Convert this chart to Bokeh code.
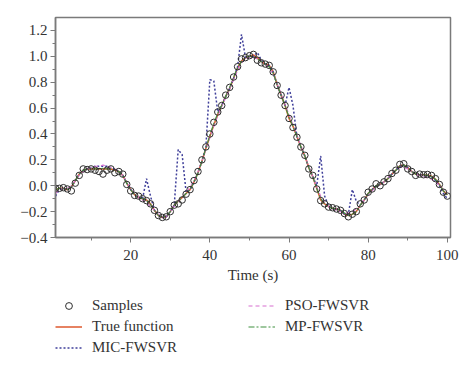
from bokeh.plotting import figure
from bokeh.layouts import column
from bokeh.models import Legend, LegendItem, FixedTicker, Range1d
from bokeh.embed import file_html
from bokeh.resources import INLINE

t = list(range(1, 101))

true_fn = [
    -0.03, -0.02, -0.02, -0.03, -0.01, 0.04, 0.09, 0.12, 0.13, 0.13,
    0.13, 0.13, 0.13, 0.13, 0.13, 0.12, 0.11, 0.08, 0.02, -0.03,
    -0.07, -0.09, -0.10, -0.11, -0.14, -0.19, -0.23, -0.245, -0.24, -0.20,
    -0.15, -0.12, -0.09, -0.06, -0.03, 0.03, 0.10, 0.19, 0.29, 0.38,
    0.47, 0.55, 0.62, 0.69, 0.75, 0.83, 0.91, 0.965, 0.99, 1.00,
    1.01, 0.99, 0.96, 0.94, 0.93, 0.88, 0.78, 0.70, 0.62, 0.52,
    0.46, 0.38, 0.30, 0.23, 0.14, 0.07, -0.02, -0.11, -0.14, -0.16,
    -0.175, -0.18, -0.19, -0.22, -0.23, -0.22, -0.20, -0.15, -0.11, -0.06,
    -0.03, 0.00, 0.01, 0.03, 0.055, 0.09, 0.12, 0.155, 0.16, 0.14,
    0.11, 0.09, 0.085, 0.085, 0.08, 0.075, 0.05, 0.01, -0.04, -0.07]

samples = [
    -0.02, -0.02, -0.015, -0.025, -0.04, 0.02, 0.08, 0.13, 0.125, 0.13,
    0.12, 0.11, 0.09, 0.12, 0.13, 0.10, 0.11, 0.09, 0.01, -0.04,
    -0.075, -0.08, -0.10, -0.115, -0.14, -0.19, -0.23, -0.245, -0.24, -0.20,
    -0.15, -0.14, -0.11, -0.065, -0.03, 0.04, 0.11, 0.20, 0.30, 0.40,
    0.49, 0.57, 0.62, 0.70, 0.76, 0.84, 0.92, 0.98, 0.99, 1.005,
    1.015, 0.97, 0.95, 0.94, 0.93, 0.88, 0.775, 0.70, 0.62, 0.52,
    0.45, 0.375, 0.30, 0.235, 0.13, 0.08, -0.025, -0.115, -0.14, -0.165,
    -0.17, -0.18, -0.19, -0.215, -0.24, -0.22, -0.20, -0.14, -0.11, -0.05,
    -0.025, 0.015, 0.0, 0.03, 0.055, 0.095, 0.12, 0.165, 0.17, 0.13,
    0.11, 0.08, 0.09, 0.085, 0.087, 0.08, 0.055, 0.01, -0.05, -0.08]

mic_fwsvr = [
    -0.08, -0.03, -0.02, -0.03, -0.01, 0.04, 0.09, 0.12, 0.13, 0.14,
    0.15, 0.15, 0.15, 0.15, 0.14, 0.13, 0.11, 0.08, 0.02, -0.03,
    -0.07, -0.09, -0.10, 0.055, -0.08, -0.19, -0.23, -0.245, -0.24, -0.20,
    -0.15, 0.28, 0.24, -0.05, -0.03, 0.03, 0.10, 0.19, 0.30, 0.82,
    0.81, 0.57, 0.62, 0.69, 0.75, 0.83, 0.92, 1.17, 0.99, 1.00,
    1.00, 1.03, 0.97, 0.94, 0.93, 0.88, 0.78, 0.70, 0.62, 0.76,
    0.62, 0.38, 0.30, 0.23, 0.14, 0.07, 0.00, 0.23, -0.08, -0.16,
    -0.175, -0.18, -0.19, -0.22, -0.22, -0.03, -0.12, -0.15, -0.11, -0.06,
    -0.03, 0.00, 0.01, 0.03, 0.055, 0.09, 0.12, 0.15, 0.16, 0.14,
    0.11, 0.09, 0.085, 0.08, 0.075, 0.07, 0.04, 0.00, -0.06, -0.10]

pso_fwsvr = [
    -0.06, -0.03, -0.02, -0.02, 0.00, 0.04, 0.08, 0.11, 0.13, 0.14,
    0.15, 0.15, 0.16, 0.15, 0.14, 0.13, 0.11, 0.08, 0.03, -0.02,
    -0.06, -0.09, -0.11, -0.13, -0.16, -0.19, -0.22, -0.24, -0.235, -0.20,
    -0.16, -0.12, -0.09, -0.05, -0.01, 0.04, 0.11, 0.19, 0.28, 0.37,
    0.46, 0.54, 0.61, 0.68, 0.75, 0.82, 0.89, 0.95, 0.98, 0.99,
    0.99, 0.98, 0.96, 0.94, 0.91, 0.86, 0.79, 0.71, 0.63, 0.55,
    0.47, 0.39, 0.31, 0.23, 0.15, 0.07, -0.01, -0.08, -0.13, -0.16,
    -0.18, -0.19, -0.20, -0.21, -0.21, -0.20, -0.18, -0.15, -0.11, -0.07,
    -0.04, -0.01, 0.01, 0.03, 0.06, 0.09, 0.12, 0.14, 0.145, 0.13,
    0.11, 0.09, 0.08, 0.07, 0.06, 0.05, 0.03, 0.00, -0.03, -0.04]

mp_fwsvr = [
    -0.03, -0.02, -0.02, -0.03, -0.01, 0.04, 0.09, 0.12, 0.13, 0.13,
    0.13, 0.13, 0.135, 0.13, 0.13, 0.12, 0.11, 0.08, 0.02, -0.03,
    -0.07, -0.09, -0.10, -0.115, -0.145, -0.19, -0.23, -0.24, -0.235, -0.20,
    -0.15, -0.12, -0.09, -0.06, -0.03, 0.03, 0.10, 0.19, 0.29, 0.39,
    0.48, 0.56, 0.62, 0.69, 0.76, 0.84, 0.91, 0.96, 0.99, 1.00,
    1.00, 0.98, 0.96, 0.94, 0.92, 0.87, 0.78, 0.70, 0.62, 0.53,
    0.46, 0.38, 0.30, 0.23, 0.14, 0.07, -0.02, -0.10, -0.14, -0.16,
    -0.175, -0.18, -0.19, -0.21, -0.23, -0.22, -0.20, -0.15, -0.11, -0.06,
    -0.03, 0.00, 0.01, 0.03, 0.055, 0.09, 0.12, 0.15, 0.16, 0.14,
    0.11, 0.09, 0.085, 0.085, 0.08, 0.07, 0.05, 0.01, -0.04, -0.07]

y_ticks = [-0.4, -0.2, 0.0, 0.2, 0.4, 0.6, 0.8, 1.0, 1.2]
x_ticks = [20, 40, 60, 80, 100]

FONT = "Liberation Serif"
GRAY = "#7a7a7a"
TXT = "#333333"

STYLES = {
    "true": dict(line_color="#e0633a", line_width=1.6),
    "mic": dict(line_color="#3f3f9a", line_width=1.5, line_dash="2 2"),
    "pso": dict(line_color="#d86fd0", line_width=1.1, line_dash="4 3"),
    "mp": dict(line_color="#3f8f3f", line_width=1.2, line_dash="6 2 2 2"),
}

p = figure(width=466, height=288, output_backend="svg", toolbar_location=None,
           x_range=Range1d(1, 100.8), y_range=Range1d(-0.4, 1.3),
           min_border_left=55, min_border_right=16, min_border_top=17, min_border_bottom=51)
p.outline_line_color = GRAY
p.outline_line_width = 1.5
p.xgrid.visible = False
p.ygrid.visible = False

for ax in (p.xaxis[0], p.yaxis[0]):
    ax.axis_line_color = GRAY
    ax.axis_line_width = 1.5
    ax.major_tick_line_color = GRAY
    ax.minor_tick_line_color = GRAY
    ax.major_tick_in = 0
    ax.major_tick_out = 5
    ax.minor_tick_in = 0
    ax.minor_tick_out = 3
    ax.major_label_text_font = FONT
    ax.major_label_text_font_size = "15px"
    ax.major_label_text_color = TXT
    ax.axis_label_text_font = FONT
    ax.axis_label_text_font_style = "normal"
    ax.axis_label_text_font_size = "15px"
    ax.axis_label_text_color = TXT

p.xaxis.ticker = FixedTicker(ticks=x_ticks, minor_ticks=[10, 30, 50, 70, 90])
p.yaxis.ticker = FixedTicker(ticks=y_ticks,
                             minor_ticks=[-0.3, -0.1, 0.1, 0.3, 0.5, 0.7, 0.9, 1.1])
p.yaxis.major_label_overrides = {v: ("%.1f" % v).replace("-", "\u2212") for v in y_ticks}
p.xaxis.axis_label = "Time (s)"
p.xaxis.axis_label_standoff = 4
p.xaxis.major_label_standoff = 7
p.yaxis.major_label_standoff = 3

p.line(t, true_fn, **STYLES["true"])
p.line(t, mic_fwsvr, **STYLES["mic"])
p.line(t, pso_fwsvr, **STYLES["pso"])
p.line(t, mp_fwsvr, **STYLES["mp"])
p.scatter(t, samples, marker="circle", size=6.5, fill_color=None,
          line_color="#2e2e2e", line_width=1.0)

# legend panel below the chart: same series, drawn with ranges that keep them out of view
lg = figure(width=466, height=72, output_backend="svg", toolbar_location=None,
            x_range=Range1d(200, 300), y_range=Range1d(5, 6),
            min_border_left=55, min_border_right=16, min_border_top=0, min_border_bottom=0,
            x_axis_type=None, y_axis_type=None)
lg.outline_line_color = None
lg.xgrid.visible = False
lg.ygrid.visible = False
l_s = lg.scatter(t, samples, marker="circle", size=4.5, fill_color=None,
                 line_color="#2e2e2e", line_width=1.0)
l_true = lg.line(t, true_fn, **STYLES["true"])
l_mic = lg.line(t, mic_fwsvr, **STYLES["mic"])
l_pso = lg.line(t, pso_fwsvr, **STYLES["pso"])
l_mp = lg.line(t, mp_fwsvr, **STYLES["mp"])

legend = Legend(items=[
    LegendItem(label="Samples", renderers=[l_s]),
    LegendItem(label="True function", renderers=[l_true]),
    LegendItem(label="MIC-FWSVR", renderers=[l_mic]),
    LegendItem(label="PSO-FWSVR", renderers=[l_pso]),
    LegendItem(label="MP-FWSVR", renderers=[l_mp]),
], ncols=2, location=(0, 4), border_line_color=None, background_fill_alpha=0,
    label_text_font=FONT, label_text_font_size="15px", label_text_color=TXT,
    glyph_width=27, glyph_height=17, label_height=17, label_width=152,
    label_standoff=10, spacing=4, padding=0, margin=0)
lg.add_layout(legend, "center")

open("out.html", "w").write(file_html(column(p, lg, spacing=0), INLINE))
